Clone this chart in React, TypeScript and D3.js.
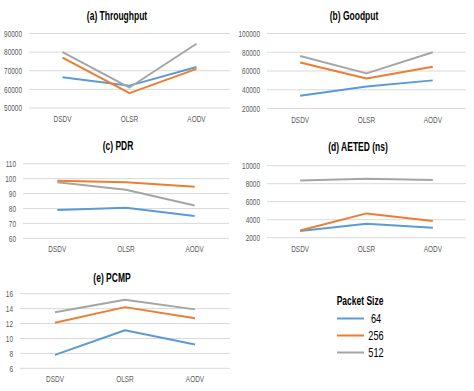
import React from "react";
import * as d3 from "d3";

const categories = ["DSDV", "OLSR", "AODV"];
const seriesNames = ["64", "256", "512"];
const legendTitle = "Packet Size";

const titles = ["(a) Throughput", "(b) Goodput", "(c) PDR", "(d) AETED (ns)", "(e) PCMP"];

const throughput64 = [66500, 62000, 72000];
const throughput256 = [77000, 58000, 71000];
const throughput512 = [80000, 61000, 84500];

const goodput64 = [33500, 43500, 50000];
const goodput256 = [69000, 52000, 64500];
const goodput512 = [76000, 57500, 80000];

const pdr64 = [79, 80.5, 75];
const pdr256 = [98.5, 97.5, 94.5];
const pdr512 = [97.5, 92.5, 82];

const aeted64 = [2750, 3550, 3100];
const aeted256 = [2800, 4700, 3850];
const aeted512 = [8350, 8550, 8400];

const pcmp64 = [7.8, 11.1, 9.2];
const pcmp256 = [12.1, 14.2, 12.7];
const pcmp512 = [13.5, 15.2, 13.9];

const ticksA = [50000, 60000, 70000, 80000, 90000];
const ticksB = [20000, 40000, 60000, 80000, 100000];
const ticksC = [60, 70, 80, 90, 100, 110];
const ticksD = [2000, 4000, 6000, 8000, 10000];
const ticksE = [6, 8, 10, 12, 14, 16];

const colors = ["#5B9BD5", "#ED7D31", "#A5A5A5"];
const FONT = "'Liberation Sans', Arial, sans-serif";
const SX = 0.68;

type PanelCfg = {
  title: string;
  series: number[][];
  ticks: number[];
  left: number;
  right: number;
  top: number;
  bottom: number;
  titleX: number;
  titleY: number;
};

const panels: PanelCfg[] = [
  { title: titles[0], series: [throughput64, throughput256, throughput512], ticks: ticksA, left: 29, right: 230, top: 33.5, bottom: 108, titleX: 117, titleY: 20 },
  { title: titles[1], series: [goodput64, goodput256, goodput512], ticks: ticksB, left: 267, right: 466, top: 33.5, bottom: 108.5, titleX: 354, titleY: 20 },
  { title: titles[2], series: [pdr64, pdr256, pdr512], ticks: ticksC, left: 23, right: 229, top: 163.7, bottom: 238.3, titleX: 118, titleY: 150 },
  { title: titles[3], series: [aeted64, aeted256, aeted512], ticks: ticksD, left: 267, right: 466, top: 165.7, bottom: 237.7, titleX: 358, titleY: 150.5 },
  { title: titles[4], series: [pcmp64, pcmp256, pcmp512], ticks: ticksE, left: 20, right: 230, top: 293.7, bottom: 368.3, titleX: 112, titleY: 282 },
];

function T(props: {
  x: number;
  y: number;
  size: number;
  anchor?: string;
  bold?: boolean;
  fill?: string;
  dy?: string;
  children: React.ReactNode;
}) {
  return (
    <text
      transform={`translate(${props.x},${props.y}) scale(${SX},1)`}
      dy={props.dy}
      textAnchor={props.anchor || "middle"}
      fontFamily={FONT}
      fontWeight={props.bold ? "bold" : "normal"}
      fontSize={props.size}
      fill={props.fill || "#000"}
    >
      {props.children}
    </text>
  );
}

function Panel({ cfg }: { cfg: PanelCfg }) {
  const x = d3.scalePoint<string>().domain(categories).range([cfg.left, cfg.right]).padding(0.5);
  const y = d3
    .scaleLinear()
    .domain([cfg.ticks[0], cfg.ticks[cfg.ticks.length - 1]])
    .range([cfg.bottom, cfg.top]);
  const line = d3
    .line<number>()
    .x((_, i) => x(categories[i]) as number)
    .y((d) => y(d));
  return (
    <g>
      <T x={cfg.titleX} y={cfg.titleY} size={12.5} bold>
        {cfg.title}
      </T>
      {cfg.ticks.map((t) => (
        <g key={t}>
          <line x1={cfg.left} x2={cfg.right} y1={y(t)} y2={y(t)} stroke="#D9D9D9" strokeWidth={1} />
          <T x={cfg.left - 7} y={y(t)} dy="0.35em" anchor="end" size={9.5} fill="#595959">
            {t}
          </T>
        </g>
      ))}
      {categories.map((c) => (
        <T key={c} x={x(c) as number} y={cfg.bottom + 14} size={9.5} fill="#595959">
          {c}
        </T>
      ))}
      {cfg.series.map((s, i) => (
        <path key={i} d={line(s) || ""} fill="none" stroke={colors[i]} strokeWidth={2} strokeLinejoin="round" />
      ))}
    </g>
  );
}

export default function App() {
  const legendX = 337;
  const legendY = 318.5;
  const legendStep = 17;
  return (
    <svg width={474} height={391} style={{ position: "absolute", left: 0, top: 0, background: "#fff" }}>
      <rect x={0} y={0} width={474} height={391} fill="#fff" />
      {panels.map((p, i) => (
        <Panel key={i} cfg={p} />
      ))}
      <g>
        <T x={360} y={305} size={12.5} bold>
          {legendTitle}
        </T>
        {seriesNames.map((n, i) => (
          <g key={n}>
            <line x1={legendX} x2={legendX + 27} y1={legendY + i * legendStep} y2={legendY + i * legendStep} stroke={colors[i]} strokeWidth={2} />
            <T x={376} y={legendY + i * legendStep} dy="0.35em" size={13.5}>
              {n}
            </T>
          </g>
        ))}
      </g>
    </svg>
  );
}
